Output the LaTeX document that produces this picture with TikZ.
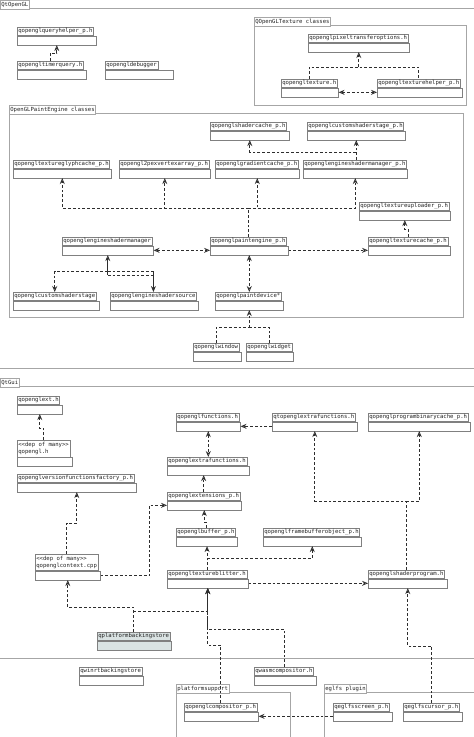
\documentclass[tikz,border=0pt]{standalone}
\usepackage{fontspec}
\setmonofont{DejaVu Sans Mono}
\usetikzlibrary{arrows.meta, positioning}
\definecolor{BoxLine}{HTML}{808080}
\definecolor{FrameLine}{HTML}{A6A6A6}
\definecolor{LineInk}{HTML}{2E2E2E}
\definecolor{TextInk}{HTML}{222222}
\definecolor{HiFill}{HTML}{DAE3E3}

% one class box: name part on top, empty body part below
\newcommand{\umlclass}[5][]{%
  \node[hdr,#1] (#2) at (#3) {#5};
  \node[bod,#1,minimum height=9pt,minimum width=#4pt] (#2-b) at (#2.south west) {};}

\begin{document}
\begin{tikzpicture}[
    x=1pt, y=-1pt,
    font=\fontsize{5.6}{7.6}\selectfont\ttfamily,
    >={Stealth[open, length=6pt, width=5pt, inset=2pt]},
    hdr/.style={draw=BoxLine, line width=0.55pt, fill=white, anchor=north west,
      inner xsep=1pt, inner ysep=0pt, minimum height=8pt, text=TextInk, align=left},
    bod/.style={draw=BoxLine, line width=0.55pt, fill=white, anchor=north west, inner sep=0pt},
    tab/.style={draw=FrameLine, line width=0.7pt, fill=white, anchor=north west,
      inner xsep=1pt, inner ysep=0pt, minimum height=8.5pt, text=TextInk},
    frame/.style={draw=FrameLine, line width=0.7pt},
    link/.style={draw=LineInk, line width=0.75pt, dash pattern=on 2.8pt off 2pt},
    dep/.style={link, ->},
    bidep/.style={link, <->},
    use/.style={draw=LineInk, line width=0.75pt, ->},
  ]
  \useasboundingbox (0,0) rectangle (474,737);

  % packages
  \draw[frame] (-2,8.5) rectangle (476,368);
  \node[tab] (qtopengl) at (0,0) {QtOpenGL};
  \draw[frame] (254,25.5) rectangle (466,105);
  \node[tab] (textab) at (254,17) {QOpenGLTexture classes};
  \draw[frame] (9,113.5) rectangle (463,317);
  \node[tab] (petab) at (9,105) {OpenGLPaintEngine classes};
  \draw[frame] (-2,386.5) rectangle (476,658);
  \node[tab] (qtgui) at (0,378) {QtGui};
  \draw[frame] (176,692.5) rectangle (290,745);
  \node[tab] (pstab) at (176,684) {platformsupport};
  \draw[frame] (324,692.5) rectangle (480,745);
  \node[tab] (egtab) at (324,684) {eglfs plugin};

  % QtOpenGL
  \umlclass{qh}{17,27}{79}{qopenglqueryhelper\_p.h}
  \umlclass{tq}{17,61}{69}{qopengltimerquery.h}
  \umlclass{dbg}{105,61}{68}{qopengldebugger}
  \umlclass{pto}{308,34}{101}{qopenglpixeltransferoptions.h}
  \umlclass{tex}{281,79}{57}{qopengltexture.h}
  \umlclass{texh}{377,79}{85}{qopengltexturehelper\_p.h}
  \umlclass{shc}{210,122}{79}{qopenglshadercache\_p.h}
  \umlclass{css}{307,122}{98}{qopenglcustomshaderstage\_p.h}
  \umlclass{tgc}{13,160}{98}{qopengltextureglyphcache\_p.h}
  \umlclass{pva}{119,160}{91}{qopengl2pexvertexarray\_p.h}
  \umlclass{grc}{215,160}{84}{qopenglgradientcache\_p.h}
  \umlclass{esmp}{303,160}{104}{qopenglengineshadermanager\_p.h}
  \umlclass{tup}{359,202}{91}{qopengltextureuploader\_p.h}
  \umlclass{esm}{62,237}{91}{qopenglengineshadermanager}
  \umlclass{pe}{210,237}{78}{qopenglpaintengine\_p.h}
  \umlclass{tc}{368,237}{82}{qopengltexturecache\_p.h}
  \umlclass{cs}{13,292}{86}{qopenglcustomshaderstage}
  \umlclass{ess}{110,292}{88}{qopenglengineshadersource}
  \umlclass{pd}{215,292}{68}{qopenglpaintdevice*}
  \umlclass{win}{193,343}{48}{qopenglwindow}
  \umlclass{wid}{246,343}{47}{qopenglwidget}

  % QtGui
  \umlclass{ext}{17,396}{45}{qopenglext.h}
  \umlclass[minimum height=16.5pt]{gl}{17,440}{55}{<<dep of many>>\\qopengl.h}
  \umlclass{vff}{17,474}{119}{qopenglversionfunctionsfactory\_p.h}
  \umlclass{fn}{176,413}{64}{qopenglfunctions.h}
  \umlclass{qtef}{272,413}{85}{qtopenglextrafunctions.h}
  \umlclass{pbc}{368,413}{102}{qopenglprogrambinarycache\_p.h}
  \umlclass{ef}{167,457}{82}{qopenglextrafunctions.h}
  \umlclass{exts}{167,492}{74}{qopenglextensions\_p.h}
  \umlclass{buf}{176,528}{61}{qopenglbuffer\_p.h}
  \umlclass{fbo}{263,528}{98}{qopenglframebufferobject\_p.h}
  \umlclass[minimum height=16pt]{ctx}{35,554}{65}{<<dep of many>>\\qopenglcontext.cpp}
  \umlclass{tb}{167,570}{81}{qopengltextureblitter.h}
  \umlclass{sp}{368,570}{79}{qopenglshaderprogram.h}
  \umlclass[fill=HiFill]{pbs}{97,632}{74}{qplatformbackingstore}

  % below QtGui
  \umlclass{winrt}{79,667}{64}{qwinrtbackingstore}
  \umlclass{wasm}{254,667}{62}{qwasmcompositor.h}
  \umlclass{comp}{184,703}{74}{qopenglcompositor\_p.h}
  \umlclass{scr}{333,703}{59}{qeglfsscreen\_p.h}
  \umlclass{cur}{403,703}{59}{qeglfscursor\_p.h}

  % QtOpenGL links
  \draw[dep] (tq.north) -- ++(0,-8) -| (qh-b.south);
  \coordinate (texj) at (pto-b.south |- 0,67);
  \draw[link] (tex.north) |- (texj) -| (texh.north);
  \draw[dep] (texj) -- (pto-b.south);
  \draw[bidep] (tex-b.east) -- (texh-b.west);

  \coordinate (shj) at (css-b.south |- 0,152);
  \draw[dep] (esmp.north -| shj) -- (css-b.south);
  \draw[dep] (shj) -| (shc-b.south);
  \coordinate (pej) at (pe.north |- 0,208);
  \draw[link] (pe.north) -- (pej);
  \draw[dep] (pej) -| (tgc-b.south);
  \draw[dep] (pej) -| (pva-b.south);
  \draw[dep] (pej) -| (grc-b.south);
  \draw[dep] (pej) -| (esmp-b.south);
  \draw[dep] (tc.north) -- ++(0,-8) -| (tup-b.south);
  \draw[bidep] (esm-b.east) -- (pe-b.west);
  \draw[dep] (pe-b.east) -- (tc-b.west);
  \draw[bidep] (pe-b.south) -- (pe-b.south |- pd.north);

  \draw[use] (esm-b.south |- 0,275) -- (esm-b.south);
  \draw[dep] (esm-b.south |- 0,271) -| (cs.north);
  \draw[link] (esm-b.south |- 0,271) -- (ess.north |- 0,271);
  \draw[link] (esm-b.south |- 0,275) -- (ess.north |- 0,275);
  \draw[use, -{Stealth[length=6pt, width=5pt, inset=2pt]}] (ess.north |- 0,271) -- (ess.north);

  \coordinate (pdj) at (pd-b.south |- 0,327);
  \draw[dep] (win.north) |- (pdj) -- (pd-b.south);
  \draw[link] (wid.north) |- (pdj);

  % QtGui links
  \draw[dep] (gl.north) -- ++(0,-12) -| (ext-b.south);
  \draw[bidep] (fn-b.south) -- (fn-b.south |- ef.north);
  \draw[dep] (exts.north) -- (exts.north |- ef-b.south);
  \draw[dep] (qtef-b.west) -- (fn-b.east);
  \coordinate (spj) at (sp.north |- 0,501);
  \draw[dep] (sp.north) -- (spj) -| (qtef-b.south);
  \draw[dep] (spj) -| (pbc-b.south);
  \draw[dep] (buf.north) -- ++(0,-6) -| (exts-b.south);
  \draw[dep] (tb.north) -- (tb.north |- buf-b.south);
  \draw[dep] (tb.north |- 0,558) -| (fbo-b.south);
  \draw[dep] (tb-b.east) -- (sp-b.west);
  \draw[dep] (ctx.north) -- (ctx.north |- 0,523) -| (vff-b.south);
  \draw[dep] (ctx-b.east) -- ++(49,0) |- (exts-b.west);
  \draw[dep] (pbs.north) -- (pbs.north |- 0,607) -| (ctx-b.south);
  \draw[dep] (pbs.north |- 0,611) -| (tb-b.south);
  \draw[dep] (wasm.north) -- (wasm.north |- 0,629) -| (tb-b.south);
  \draw[dep] (comp.north) -- (comp.north |- 0,645) -| (tb-b.south);
  \draw[dep] (cur.north) -- (cur.north |- 0,646) -| (sp-b.south);
  \draw[dep] (scr-b.west) -- (comp-b.east);
\end{tikzpicture}
\end{document}
